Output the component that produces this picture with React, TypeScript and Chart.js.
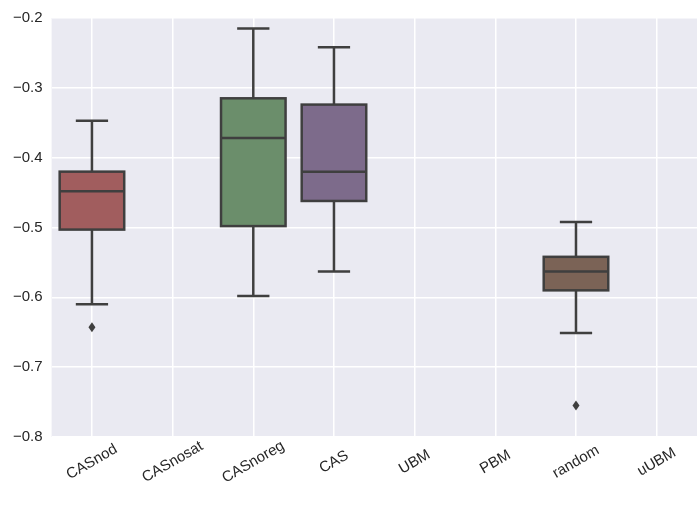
import React, { useEffect, useRef } from "react";
import { Chart, registerables } from "chart.js";
Chart.register(...registerables);

const categories = ["CASnod", "CASnosat", "CASnoreg", "CAS", "UBM", "PBM", "random", "uUBM"];
const whiskerHigh = [-0.347, null, -0.215, -0.242, null, null, -0.492, null];
const q3 = [-0.42, null, -0.315, -0.324, null, null, -0.542, null];
const median = [-0.448, null, -0.372, -0.42, null, null, -0.563, null];
const q1 = [-0.503, null, -0.498, -0.462, null, null, -0.59, null];
const whiskerLow = [-0.61, null, -0.598, -0.563, null, null, -0.651, null];
const outliers = [[-0.643], [], [], [], [], [], [-0.755], []];
const colors = ["#a15d5e", "#888", "#6b8e6b", "#7d6b8b", "#888", "#888", "#7b6356", "#888"];
const yTicks = [-0.8, -0.7, -0.6, -0.5, -0.4, -0.3, -0.2];

const LINE = "#3f3f3f";
const FONT = "15px 'Liberation Sans'";

const boxPlugin = {
  id: "boxes",
  afterDatasetsDraw(chart: any) {
    const ctx = chart.ctx;
    const x = chart.scales.x;
    const y = chart.scales.y;
    const meta = chart.getDatasetMeta(0);
    ctx.save();
    ctx.strokeStyle = LINE;
    ctx.lineWidth = 2.5;
    categories.forEach((_, i) => {
      if (q1[i] == null) return;
      const bar = meta.data[i];
      const cx = x.getPixelForValue(i);
      const half = bar.width / 2;
      const cap = half / 2;
      const yq1 = y.getPixelForValue(q1[i]);
      const yq3 = y.getPixelForValue(q3[i]);
      const ym = y.getPixelForValue(median[i]);
      const yh = y.getPixelForValue(whiskerHigh[i]);
      const yl = y.getPixelForValue(whiskerLow[i]);
      ctx.beginPath();
      ctx.moveTo(cx, yq3); ctx.lineTo(cx, yh);
      ctx.moveTo(cx - cap, yh); ctx.lineTo(cx + cap, yh);
      ctx.moveTo(cx, yq1); ctx.lineTo(cx, yl);
      ctx.moveTo(cx - cap, yl); ctx.lineTo(cx + cap, yl);
      ctx.moveTo(cx - half, ym); ctx.lineTo(cx + half, ym);
      ctx.stroke();
      ctx.strokeRect(cx - half, yq3, half * 2, yq1 - yq3);
      ctx.fillStyle = LINE;
      outliers[i].forEach((v) => {
        const oy = y.getPixelForValue(v);
        ctx.beginPath();
        ctx.moveTo(cx, oy - 5); ctx.lineTo(cx + 3.5, oy); ctx.lineTo(cx, oy + 5); ctx.lineTo(cx - 3.5, oy);
        ctx.closePath();
        ctx.fill();
      });
    });
    // x labels, rotated 30° and centered under each tick
    ctx.fillStyle = "#262626";
    ctx.font = FONT;
    ctx.textAlign = "center";
    ctx.textBaseline = "middle";
    categories.forEach((c, i) => {
      const cx = x.getPixelForValue(i);
      ctx.save();
      ctx.translate(cx, chart.chartArea.bottom + 25);
      ctx.rotate(-Math.PI / 6);
      ctx.fillText(c, 0, 0);
      ctx.restore();
    });
    ctx.restore();
  },
};

const bgPlugin = {
  id: "bg",
  beforeDraw(chart: any) {
    const { ctx, chartArea: a } = chart;
    ctx.save();
    ctx.fillStyle = "#eaeaf2";
    ctx.fillRect(a.left, a.top, a.right - a.left, a.bottom - a.top);
    ctx.restore();
  },
};

export default function App() {
  const ref = useRef<HTMLCanvasElement>(null);
  useEffect(() => {
    document.body.style.margin = "0";
    const chart = new Chart(ref.current!, {
      type: "bar",
      data: {
        labels: categories,
        datasets: [
          {
            data: categories.map((_, i) => (q1[i] == null ? null : [q1[i], q3[i]])) as any,
            backgroundColor: colors,
            borderWidth: 0,
            barPercentage: 0.8,
            categoryPercentage: 1,
          },
        ],
      },
      options: {
        responsive: false,
        animation: false,
        layout: { padding: { top: 8, right: 0, left: 4, bottom: 72 } },
        plugins: { legend: { display: false }, tooltip: { enabled: false } },
        scales: {
          x: {
            grid: { color: "#ffffff", lineWidth: 1.5, offset: false, drawTicks: false },
            border: { display: false },
            ticks: { display: false },
          },
          y: {
            min: -0.8,
            max: -0.2,
            afterBuildTicks: (s: any) => { s.ticks = yTicks.map((v) => ({ value: v })); },
            grid: { color: "#ffffff", lineWidth: 1.5, drawTicks: false },
            border: { display: false },
            ticks: {
              color: "#262626",
              font: { family: "Liberation Sans", size: 15 },
              padding: 9,
              callback: (v: any) => Number(v).toFixed(1).replace("-", "\u2212"),
            },
          },
        },
      },
      plugins: [bgPlugin, boxPlugin],
    });
    return () => chart.destroy();
  }, []);
  return <canvas ref={ref} width={697} height={509} />;
}
